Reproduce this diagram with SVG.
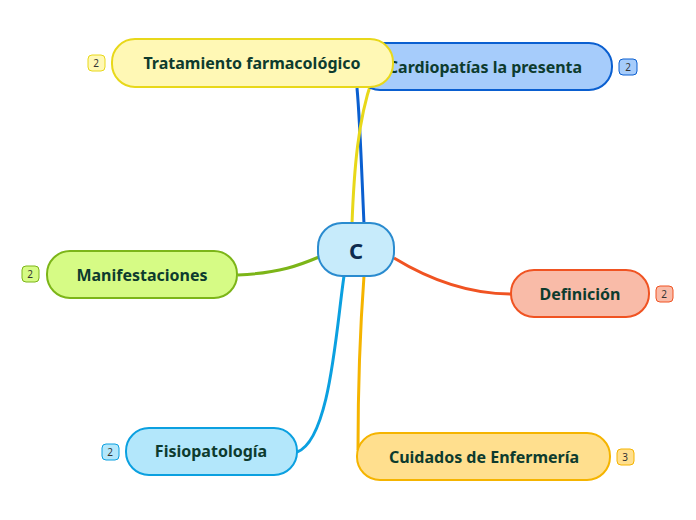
<svg xmlns="http://www.w3.org/2000/svg" width="696" height="520" viewBox="0 0 696 520">
<style>
text{font-family:"Noto Sans","Open Sans",sans-serif;font-weight:bold;fill:#0d3b2e;text-anchor:middle;dominant-baseline:central}
.n{stroke-width:2}
.b{stroke-width:1}
.b+text{font-size:10px;font-weight:normal;fill:#333}
.l{font-size:16px}
path{fill:none;stroke-width:3}
</style>
<rect width="696" height="520" fill="#fff"/>
<g id="connectors">
<path d="M364,224 C362,180 360,120 357,88" stroke="#0a5fd0"/>
<path d="M352,224 C354,170 358,120 372,80" stroke="#e8d81a"/>
<path d="M319,257 C300,265 280,273 238,275" stroke="#7cb518"/>
<path d="M394,258 C430,280 470,294 511,294" stroke="#f05322"/>
<path d="M344,276 C336,330 330,440 297,452" stroke="#0ba0e0"/>
<path d="M364,276 C360,330 358,400 358,450" stroke="#f5b400"/>
</g>
<g id="cardio"><rect class="n" x="357" y="43" width="255" height="47" rx="23" fill="#a6ccfb" stroke="#0a5fd0"/><text class="l" x="485" y="67">Cardiopatías la presenta</text>
<rect class="b" x="619" y="59" width="18" height="16" rx="4" fill="#a6ccfb" stroke="#0a5fd0"/><text x="628" y="67">2</text></g>
<g id="trat"><rect class="n" x="112" y="39" width="281" height="48" rx="23" fill="#fff8b5" stroke="#e8d81a"/><text class="l" x="252" y="63">Tratamiento farmacológico</text>
<rect class="b" x="88" y="55" width="17" height="16" rx="4" fill="#fff8b5" stroke="#e8d81a"/><text x="96" y="63">2</text></g>
<g id="c"><rect class="n" x="318" y="223" width="76" height="53" rx="24" fill="#c7ebfb" stroke="#2a8bcf"/><text x="356" y="250" style="font-size:22px;fill:#0d2a4e">C</text></g>
<g id="manif"><rect class="n" x="47" y="251" width="190" height="47" rx="23" fill="#d6fb85" stroke="#7cb518"/><text class="l" x="142" y="275">Manifestaciones</text>
<rect class="b" x="22" y="266" width="17" height="16" rx="4" fill="#d6fb85" stroke="#7cb518"/><text x="30" y="274">2</text></g>
<g id="def"><rect class="n" x="511" y="270" width="138" height="47" rx="23" fill="#f9bba8" stroke="#f05322"/><text class="l" x="580" y="294">Definición</text>
<rect class="b" x="656" y="286" width="17" height="16" rx="4" fill="#f9bba8" stroke="#f05322"/><text x="664" y="294">2</text></g>
<g id="fisio"><rect class="n" x="126" y="428" width="171" height="47" rx="23" fill="#b3e7fb" stroke="#0ba0e0"/><text class="l" x="211" y="451">Fisiopatología</text>
<rect class="b" x="102" y="444" width="17" height="16" rx="4" fill="#b3e7fb" stroke="#0ba0e0"/><text x="110" y="452">2</text></g>
<g id="cuid"><rect class="n" x="357" y="433" width="253" height="47" rx="23" fill="#ffdf8e" stroke="#f5b400"/><text class="l" x="484" y="457">Cuidados de Enfermería</text>
<rect class="b" x="617" y="449" width="17" height="16" rx="4" fill="#ffdf8e" stroke="#f5b400"/><text x="625" y="457">3</text></g>
</svg>
